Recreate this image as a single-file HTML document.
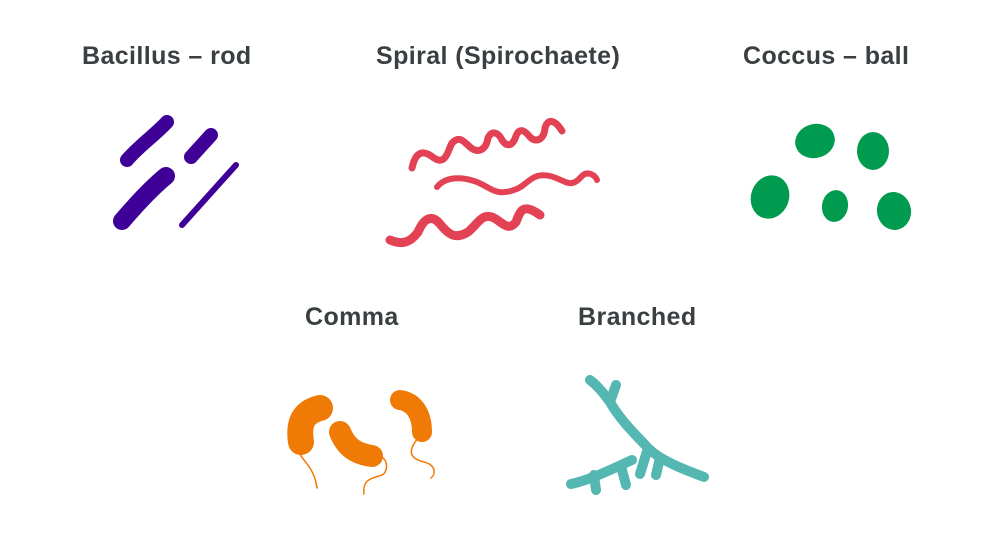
<!DOCTYPE html>
<html><head><style>
html,body{margin:0;padding:0;background:#fff;}
.t{position:absolute;font-family:"Liberation Sans",sans-serif;font-weight:bold;font-size:25px;color:#3a3f41;white-space:nowrap;letter-spacing:0.4px;}
</style></head><body>
<div style="position:relative;width:997px;height:545px;overflow:hidden;">
<div class="t" style="left:82px;top:42px;">Bacillus – rod</div>
<div class="t" style="left:376px;top:42px;">Spiral (Spirochaete)</div>
<div class="t" style="left:743px;top:42px;">Coccus – ball</div>
<div class="t" style="left:305px;top:303px;">Comma</div>
<div class="t" style="left:578px;top:303px;">Branched</div>
<svg width="997" height="545" style="position:absolute;left:0;top:0" fill="none" stroke-linecap="round" stroke-linejoin="round">
<g stroke="#3f0097">
<path d="M127 160 C140 145,155 135,167 122" stroke-width="14"/>
<path d="M191 157 L211 135" stroke-width="14"/>
<path d="M122 221 C140 200,155 185,166 176" stroke-width="18"/>
<path d="M182 225 L236 165" stroke-width="6"/>
</g>
<g stroke="#e34255">
<path d="M412 168 C416 150,424 150,434 158 C446 166,448 150,452 143 C460 135,464 142,470 147 C478 154,486 150,488 138 C492 130,498 132,502 140 C506 146,512 148,516 136 C520 126,526 132,530 137 C536 143,544 140,545 128 C548 117,556 121,562 131" stroke-width="7"/>
<path d="M437 187 C446 176,462 177,474 181 C490 186,494 197,514 190 C528 186,530 172,550 176 C566 180,570 190,582 176 C588 170,596 176,597 180" stroke-width="6"/>
<path d="M390 240 C402 245,410 243,418 232 C424 218,432 214,440 224 C448 234,455 240,468 232 C478 224,482 212,494 218 C502 222,508 232,516 222 C520 212,522 202,540 215" stroke-width="9"/>
</g>
<g fill="#009b4e">
<ellipse cx="815" cy="141" rx="20" ry="17" transform="rotate(-15 815 141)"/>
<ellipse cx="873" cy="151" rx="16" ry="19"/>
<ellipse cx="770" cy="197" rx="19" ry="22" transform="rotate(20 770 197)"/>
<ellipse cx="835" cy="206" rx="13" ry="16" transform="rotate(10 835 206)"/>
<ellipse cx="894" cy="211" rx="17" ry="19" transform="rotate(-10 894 211)"/>
</g>
<g stroke="#ef7a05">
<path d="M320 408 C304 412,298 422,301 442" stroke-width="26"/>
<path d="M340 432 C346 447,356 454,372 456" stroke-width="22"/>
<path d="M400 400 C414 402,422 414,422 432" stroke-width="20"/>
<path d="M298 449 C300 460,314 465,317 488" stroke-width="1.5"/>
<path d="M376 454 C390 458,388 472,382 475 C374 478,362 478,364 494" stroke-width="1.5"/>
<path d="M419 437 C408 450,408 458,424 462 C436 465,436 474,431 478" stroke-width="1.5"/>
</g>
<g stroke="#55b7b2" stroke-width="10">
<path d="M590 380 C598 386,605 395,610 402 C620 420,636 435,648 448 C660 460,680 468,704 477"/>
<path d="M610 402 L616 385"/>
<path d="M571 484 C590 480,610 470,632 460"/>
<path d="M594 475 L596 490"/>
<path d="M621 466 L626 485"/>
<path d="M648 448 L640 474"/>
<path d="M660 458 L656 475"/>
</g>
</svg>
</div>
</body></html>
